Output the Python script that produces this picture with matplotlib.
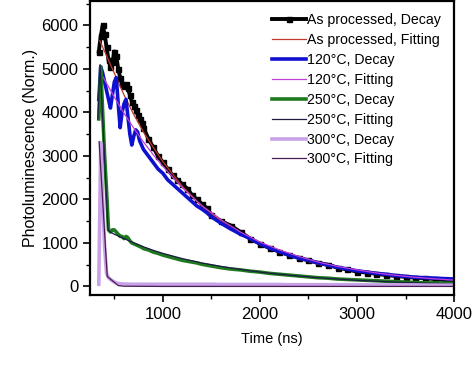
import matplotlib
matplotlib.use("Agg")
import matplotlib.pyplot as plt
from matplotlib.ticker import MultipleLocator

plt.rcParams["font.family"] = ["Liberation Sans", "DejaVu Sans"]

# Time grid of the measured decays (ns)
t_decay = [340, 360, 380, 400, 420, 440, 460, 480, 500, 520, 540, 560, 580, 600,
           620, 640, 660, 680, 700, 720, 740, 760, 780, 800,
           850, 900, 950, 1000, 1050, 1100, 1150, 1200, 1250, 1300, 1350, 1400, 1450, 1500,
           1600, 1700, 1800, 1900, 2000, 2100, 2200, 2300, 2400, 2500, 2600, 2700, 2800,
           2900, 3000, 3100, 3200, 3300, 3400, 3500, 3600, 3700, 3800, 3900, 4000]

asproc_decay = [5400, 5750, 6000, 5800, 5500, 5200, 5050, 5150, 5400, 5300, 5000, 4800, 4650, 4600,
                4650, 4550, 4400, 4250, 4150, 4050, 3950, 3850, 3750, 3650,
                3400, 3200, 3000, 2850, 2700, 2550, 2450, 2350, 2250, 2100, 2000, 1900, 1800, 1650,
                1500, 1400, 1250, 1100, 980, 880, 800, 720, 660, 600, 540, 500, 430,
                390, 340, 320, 290, 260, 240, 220, 200, 190, 170, 150, 140]

c120_decay = [4300, 5050, 4900, 4700, 4500, 4300, 4100, 4400, 4700, 4800, 4200, 3650, 4000, 4200,
              4300, 3900, 3500, 3250, 3450, 3600, 3550, 3350, 3250, 3150,
              3000, 2850, 2700, 2600, 2450, 2350, 2250, 2150, 2050, 1950, 1850, 1780, 1700, 1600,
              1450, 1320, 1200, 1100, 980, 880, 800, 720, 650, 600, 540, 490, 440,
              400, 360, 330, 300, 280, 250, 230, 210, 200, 190, 180, 170]

c250_decay = [3850, 5050, 4000, 3000, 2200, 1300, 1250, 1300, 1300, 1250, 1200, 1150, 1150, 1100,
              1150, 1120, 1050, 1000, 980, 960, 940, 920, 900, 870,
              840, 790, 760, 720, 690, 660, 630, 600, 580, 560, 540, 510, 490, 470,
              430, 400, 380, 350, 330, 300, 280, 260, 240, 220, 200, 190, 170,
              160, 150, 140, 130, 120, 110, 100, 90, 85, 80, 75, 70]

c300_decay = [50, 3300, 2000, 900, 300, 200, 160, 130, 100, 80, 70, 60, 60, 55,
              55, 55, 50, 50, 50, 50, 50, 50, 50, 50,
              50, 50, 50, 50, 50, 50, 50, 50, 50, 50, 50, 50, 50, 50,
              45, 45, 45, 45, 45, 45, 45, 40, 40, 40, 40, 40, 40,
              40, 40, 35, 35, 35, 35, 35, 35, 30, 30, 30, 30]

# Fitted curves
t_fit = [350, 400, 500, 600, 700, 800, 900, 1000, 1200, 1400, 1600, 1800, 2000,
         2200, 2400, 2600, 2800, 3000, 3200, 3400, 3600, 3800, 4000]
asproc_fit = [5650, 5400, 4900, 4400, 3950, 3550, 3200, 2870, 2300, 1850, 1500, 1200, 960,
              780, 630, 510, 420, 345, 290, 240, 200, 170, 145]

t_fit120 = [360, 400, 500, 600, 700, 800, 900, 1000, 1200, 1400, 1600, 1800, 2000,
            2200, 2400, 2600, 2800, 3000, 3200, 3400, 3600, 3800, 4000]
c120_fit = [4900, 4750, 4350, 3980, 3640, 3320, 3030, 2760, 2270, 1860, 1530, 1250, 1020,
            840, 690, 560, 460, 380, 310, 255, 210, 175, 145]

t_fit250 = [330, 353, 435, 460, 500, 600, 700, 800, 900, 1000, 1200, 1400, 1600, 1800,
            2000, 2200, 2400, 2600, 2800, 3000, 3200, 3400, 3600, 3800, 4000]
c250_fit = [3850, 5100, 1300, 1250, 1200, 1100, 1000, 910, 830, 760, 640, 540, 460, 390,
            330, 280, 240, 200, 170, 140, 120, 100, 85, 70, 60]

t_fit300 = [343, 427, 540, 600, 1000, 2000, 3000, 4000]
c300_fit = [3330, 230, 20, 5, 0, 0, 0, 0]

fig = plt.figure(figsize=(4.74, 3.68), dpi=100)
ax = fig.add_axes([0.19, 0.198, 0.768, 0.798])

ax.plot(t_decay, asproc_decay, "-s", color="black", lw=2.8, ms=3.6, label="As processed, Decay")
ax.plot(t_fit, asproc_fit, "-", color="#c0392b", lw=0.9, label="As processed, Fitting")
ax.plot(t_decay, c120_decay, "-", color="#1010d0", lw=2.6, label="120°C, Decay")
ax.plot(t_fit120, c120_fit, "-", color="#c040d8", lw=0.9, label="120°C, Fitting")
ax.plot(t_decay, c250_decay, "-", color="#1f7a1f", lw=2.6, label="250°C, Decay")
ax.plot(t_fit250, c250_fit, "-", color="#1c1c44", lw=0.9, label="250°C, Fitting")
ax.plot(t_decay, c300_decay, "-", color="#c8a2e6", lw=2.6, label="300°C, Decay")
ax.plot(t_fit300, c300_fit, "-", color="#4a1a52", lw=0.9, label="300°C, Fitting")

ax.set_xlim(250, 4000)
ax.set_ylim(-200, 6550)
ax.xaxis.set_major_locator(MultipleLocator(1000))
ax.xaxis.set_minor_locator(MultipleLocator(500))
ax.yaxis.set_major_locator(MultipleLocator(1000))
ax.yaxis.set_minor_locator(MultipleLocator(500))
ax.tick_params(which="major", direction="out", length=5, width=1.2, labelsize=12)
ax.tick_params(which="minor", direction="out", length=3, width=1.0)
ax.tick_params(top=False, right=False)
for s in ax.spines.values():
    s.set_linewidth(1.6)

ax.set_xlabel("Time (ns)", fontsize=10.5, labelpad=7)
ax.set_ylabel("Photoluminescence (Norm.)", fontsize=11.5, labelpad=2)

ax.legend(loc="upper right", frameon=False, fontsize=10.2, handlelength=2.4,
          handletextpad=0.1, labelspacing=0.42, borderaxespad=0.4,
          bbox_to_anchor=(0.995, 1.0))

fig.savefig("out.png", dpi=100)
